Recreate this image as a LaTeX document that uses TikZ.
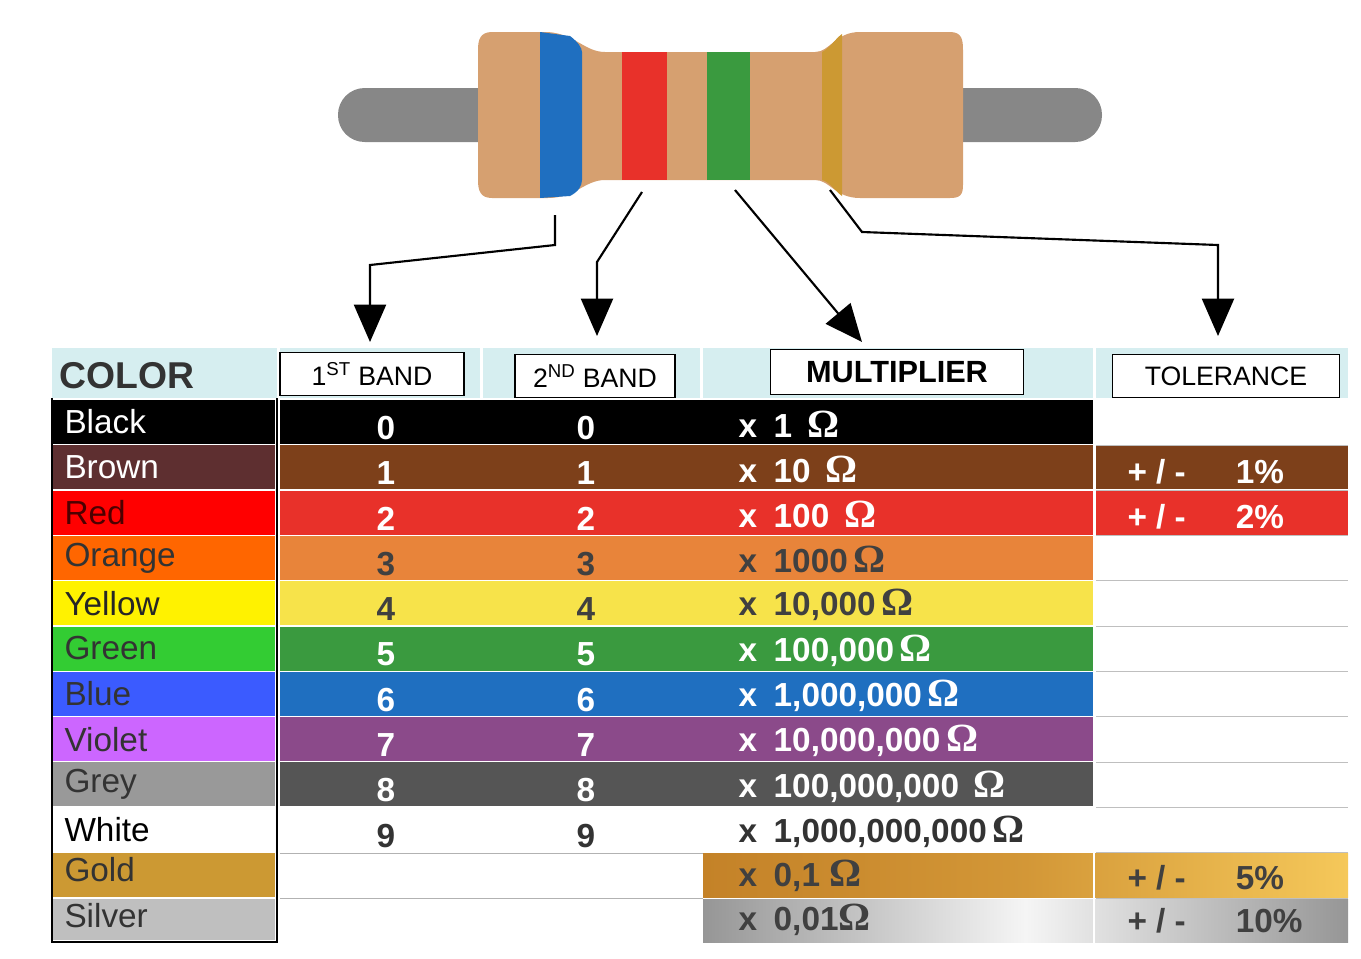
\documentclass[tikz,border=0pt]{standalone}
\usepackage{fontspec}
\setmainfont{Liberation Sans}
\newfontfamily\ohmfont{Liberation Serif}
\usetikzlibrary{arrows.meta}
\definecolor{bodytan}{RGB}{214,160,112}
\definecolor{leadgrey}{RGB}{135,135,135}
\definecolor{hdrcyan}{RGB}{214,238,240}
\definecolor{cBrown}{RGB}{94,47,48}
\definecolor{cOrange}{RGB}{255,102,0}
\definecolor{cGreen}{RGB}{51,204,51}
\definecolor{cBlue}{RGB}{59,91,255}
\definecolor{cViolet}{RGB}{204,102,255}
\definecolor{cGold}{RGB}{204,153,51}
\definecolor{bBrown}{RGB}{125,64,26}
\definecolor{bRed}{RGB}{232,49,42}
\definecolor{bOrange}{RGB}{232,132,58}
\definecolor{bYellow}{RGB}{247,227,74}
\definecolor{bGreen}{RGB}{58,154,63}
\definecolor{bBlue}{RGB}{31,111,192}
\definecolor{bViolet}{RGB}{139,74,138}
\definecolor{bGrey}{RGB}{85,85,85}
\definecolor{goldA}{RGB}{196,130,40}
\definecolor{goldB}{RGB}{245,200,90}
\definecolor{silvA}{RGB}{150,150,150}
\definecolor{silvB}{RGB}{245,245,245}
\tikzset{every picture/.style={line width=0.75pt}}
\tikzset{
  cname/.style={anchor=west,inner sep=0.75pt,font=\fontsize{25}{25}\selectfont},
  digit/.style={inner sep=0.75pt,font=\bfseries\fontsize{25}{25}\selectfont},
  mult/.style={anchor=west,inner sep=0.75pt,font=\bfseries\fontsize{25}{25}\selectfont},
  hdr/.style={draw=black,fill=white,line width=1pt,inner sep=0.75pt,font=\fontsize{20}{20}\selectfont},
  pointer/.style={line width=1.6pt,-{Triangle[length=28pt,width=24pt]}}
}
\newcommand{\ohm}{{\ohmfont\bfseries\fontsize{30}{30}\selectfont Ω}}
\newcommand{\tolpm}{+ / -\quad\enspace}
\begin{document}
\begin{tikzpicture}[x=0.75pt,y=0.75pt,yscale=-1,xscale=1]
\useasboundingbox (0,0) rectangle (1361,958);

%Resistor leads
\draw [draw=none,fill=leadgrey,rounded corners=20pt] (338,88) rectangle (1102,142);
%Resistor body
\draw [draw=none,fill=bodytan] (492,32) -- (548,32) .. controls (575,34) and (585,52) .. (605,52) -- (815,52) .. controls (830,52) and (835,32) .. (860,32) -- (950,32) .. controls (962,32) and (963,40) .. (963,50) -- (963,185) .. controls (963,195) and (960,198) .. (950,198) -- (860,198) .. controls (835,198) and (830,180) .. (815,180) -- (605,180) .. controls (585,180) and (575,198) .. (548,198) -- (492,198) .. controls (480,198) and (478,190) .. (478,180) -- (478,50) .. controls (478,40) and (480,32) .. (492,32) -- cycle;
%Bands
\draw [draw=none,fill=bBlue] (540,32) -- (570,36) .. controls (578,42) and (582,48) .. (582,52) -- (582,180) .. controls (582,186) and (578,192) .. (570,196) -- (540,198) -- cycle;
\draw [draw=none,fill=bRed] (622,52) rectangle (667,180);
\draw [draw=none,fill=bGreen] (707,52) rectangle (750,180);
\draw [draw=none,fill=cGold] (822,52) .. controls (830,48) and (836,38) .. (842,34) -- (842,196) .. controls (836,192) and (830,182) .. (822,180) -- cycle;

%Header strip
\fill [hdrcyan] (52,348) rectangle (1348,398);
\foreach \xa/\xb in {277/280,480/483,700/703,1093/1096}
  \fill [white] (\xa,348) rectangle (\xb,943);
\node [anchor=west,inner sep=0.75pt,font=\bfseries\fontsize{28}{28}\selectfont,text=black!80] (hcolor) at (58,376) {COLOR};
\node [hdr,minimum width=138,minimum height=32] (hband1) at (372,374) {1\textsuperscript{ST} BAND};
\node [hdr,minimum width=120,minimum height=32] (hband2) at (595,376) {2\textsuperscript{ND} BAND};
\node [hdr,font=\bfseries\fontsize{23}{23}\selectfont,minimum width=190,minimum height=34] (hmult) at (897,372) {MULTIPLIER};
\node [hdr,minimum width=170,minimum height=32] (htol) at (1226,376) {TOLERANCE};

%Table rows
\foreach \i/\cn/\cf/\ct/\bc/\bt/\dg/\mv/\tf/\tv in {
  0/Black/black/white/black/white/0/{1 }/white/{},
  1/Brown/cBrown/white/bBrown/white/1/{10 }/bBrown/{\tolpm 1\%},
  2/Red/red/black!70!red/bRed/white/2/{100 }/bRed/{\tolpm 2\%},
  3/Orange/cOrange/black!80/bOrange/black!75/3/{1000}/white/{},
  4/Yellow/yellow/black!85/bYellow/black!75/4/{10,000}/white/{},
  5/Green/cGreen/black!80/bGreen/white/5/{100,000}/white/{},
  6/Blue/cBlue/black!80/bBlue/white/6/{1,000,000}/white/{},
  7/Violet/cViolet/black!80/bViolet/white/7/{10,000,000}/white/{},
  8/Grey/gray!80/black!80/bGrey/white/8/{100,000,000 }/white/{},
  9/White/white/black/white/black!80/9/{1,000,000,000}/white/{}}{
  \pgfmathsetmacro{\ya}{400+45.3*\i}
  \pgfmathsetmacro{\yb}{\ya+44}
  \pgfmathsetmacro{\ym}{\ya+22}
  \fill [\cf] (52,\ya) rectangle (275,\yb);
  \fill [\bc] (280,\ya) rectangle (1093,\yb);
  \fill [\tf] (1096,\ya) rectangle (1348,\yb);
  \node [cname,text=\ct] (name\i) at (63,\ym) {\cn};
  \node [digit,text=\bt] (da\i) at (386,\ym+6) {\dg};
  \node [digit,text=\bt] (db\i) at (586,\ym+6) {\dg};
  \node [mult,text=\bt] (mv\i) at (737,\ym+2) {x\enspace\mv\,\ohm};
  \node [mult,text=white] (tv\i) at (1126,\ym+4) {\tv};
}
%Gold and silver rows
\fill [cGold] (52,853) rectangle (275,897);
\fill [black!25] (52,899) rectangle (275,940);
\shade [left color=goldA,right color=goldB,middle color=goldA!70!goldB] (703,853) rectangle (1348,897);
\shade [left color=silvA,right color=silvA,middle color=silvB] (703,899) rectangle (1348,942);
\draw [white,line width=1.5pt] (1094,853) -- (1094,943);
\node [cname,text=black!80] (name10) at (63,870) {Gold};
\node [cname,text=black!80] (name11) at (63,916) {Silver};
\node [mult,text=black!75] (mv10) at (737,876) {x\enspace 0,1 \ohm};
\node [mult,text=black!75] (mv11) at (737,920) {x\enspace 0,01\ohm};
\node [mult,text=black!75] (tv10) at (1126,878) {\tolpm 5\%};
\node [mult,text=black!75] (tv11) at (1126,921) {\tolpm 10\%};
\draw [gray!60] (280,853) -- (703,853) (280,898) -- (703,898);
\foreach \i in {0,...,10}
  \draw [gray!50] (1096,{445+45.3*\i}) -- (1348,{445+45.3*\i});
\draw [black,line width=2pt] (52,398) -- (52,942) -- (277,942) -- (277,398);

%Pointers
\coordinate (p1) at (555,215);
\coordinate (p2) at (642,192);
\coordinate (p3) at (735,190);
\coordinate (p4) at (830,190);
\coordinate (t1) at (370,342);
\coordinate (t2) at (597,336);
\coordinate (t3) at (862,342);
\coordinate (t4) at (1218,336);
\draw [pointer] (p1) -- (555,245) -- (370,265) -- (t1);
\draw [pointer] (p2) -- (597,262) -- (t2);
\draw [pointer] (p3) -- (t3);
\draw [pointer] (p4) -- (862,232) -- (1218,245) -- (t4);
\end{tikzpicture}
\end{document}
